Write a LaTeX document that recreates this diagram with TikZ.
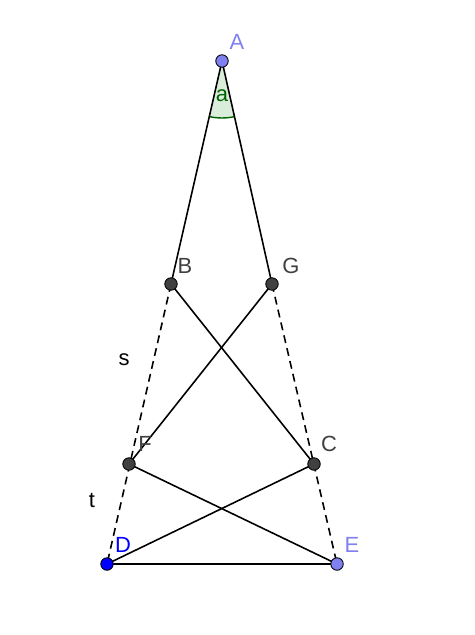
\documentclass[tikz,border=0pt]{standalone}
\usepackage{fontspec}
\setmainfont{Liberation Sans}
\definecolor{lavender}{RGB}{128,128,240}
\definecolor{ptgray}{RGB}{64,64,64}
\definecolor{anglegreen}{RGB}{0,100,0}
\definecolor{anglefill}{RGB}{218,236,218}
\tikzset{
  pt/.style={circle, draw=black, line width=0.5pt, inner sep=0pt, minimum size=2.5mm},
  lbl/.style={font=\fontsize{12.5}{14}\selectfont, text=ptgray},
  seg/.style={line width=0.9pt},
  dseg/.style={line width=0.9pt, dash pattern=on 4.5pt off 3pt}
}
\begin{document}
\begin{tikzpicture}[x=0.02cm, y=-0.02cm]
  \useasboundingbox (0,0) rectangle (474,635);
  \coordinate (A) at (222,61);
  \coordinate (B) at (171,284);
  \coordinate (G) at (272,284);
  \coordinate (F) at (129,464);
  \coordinate (C) at (314,464);
  \coordinate (D) at (107,564);
  \coordinate (E) at (337,564);
  % angle a
  \fill [anglefill] (A) -- ++(-102.9:1.14cm) arc (-102.9:-77.4:1.14cm) -- cycle;
  \draw [anglegreen, line width=0.8pt] (A) ++(-102.9:1.14cm) arc (-102.9:-77.4:1.14cm);
  \node [font=\fontsize{12.5}{14}\selectfont, text=anglegreen] (alab) at (222,96) {a};
  % sides
  \draw [seg] (A) -- (B);
  \draw [seg] (A) -- (G);
  \draw [dseg] (B) -- (D);
  \draw [dseg] (G) -- (E);
  \draw [seg] (B) -- (C);
  \draw [seg] (G) -- (F);
  \draw [seg] (F) -- (E);
  \draw [seg] (C) -- (D);
  \draw [seg] (D) -- (E);
  % points
  \node [pt, fill=lavender] (pA) at (A) {};
  \node [pt, fill=ptgray] (pB) at (B) {};
  \node [pt, fill=ptgray] (pG) at (G) {};
  \node [pt, fill=ptgray] (pF) at (F) {};
  \node [pt, fill=ptgray] (pC) at (C) {};
  \node [pt, fill=blue] (pD) at (D) {};
  \node [pt, fill=lavender] (pE) at (E) {};
  % labels
  \node [lbl, text=lavender] (lA) at (237,42) {A};
  \node [lbl] (lB) at (185,266) {B};
  \node [lbl] (lG) at (291,266) {G};
  \node [lbl] (lF) at (145,444) {F};
  \node [lbl] (lC) at (329,444) {C};
  \node [lbl, text=blue] (lD) at (123,545) {D};
  \node [lbl, text=lavender] (lE) at (352,545) {E};
  \node [lbl, text=black] (ls) at (124,360) {s};
  \node [lbl, text=black] (lt) at (92,500) {t};
\end{tikzpicture}
\end{document}
